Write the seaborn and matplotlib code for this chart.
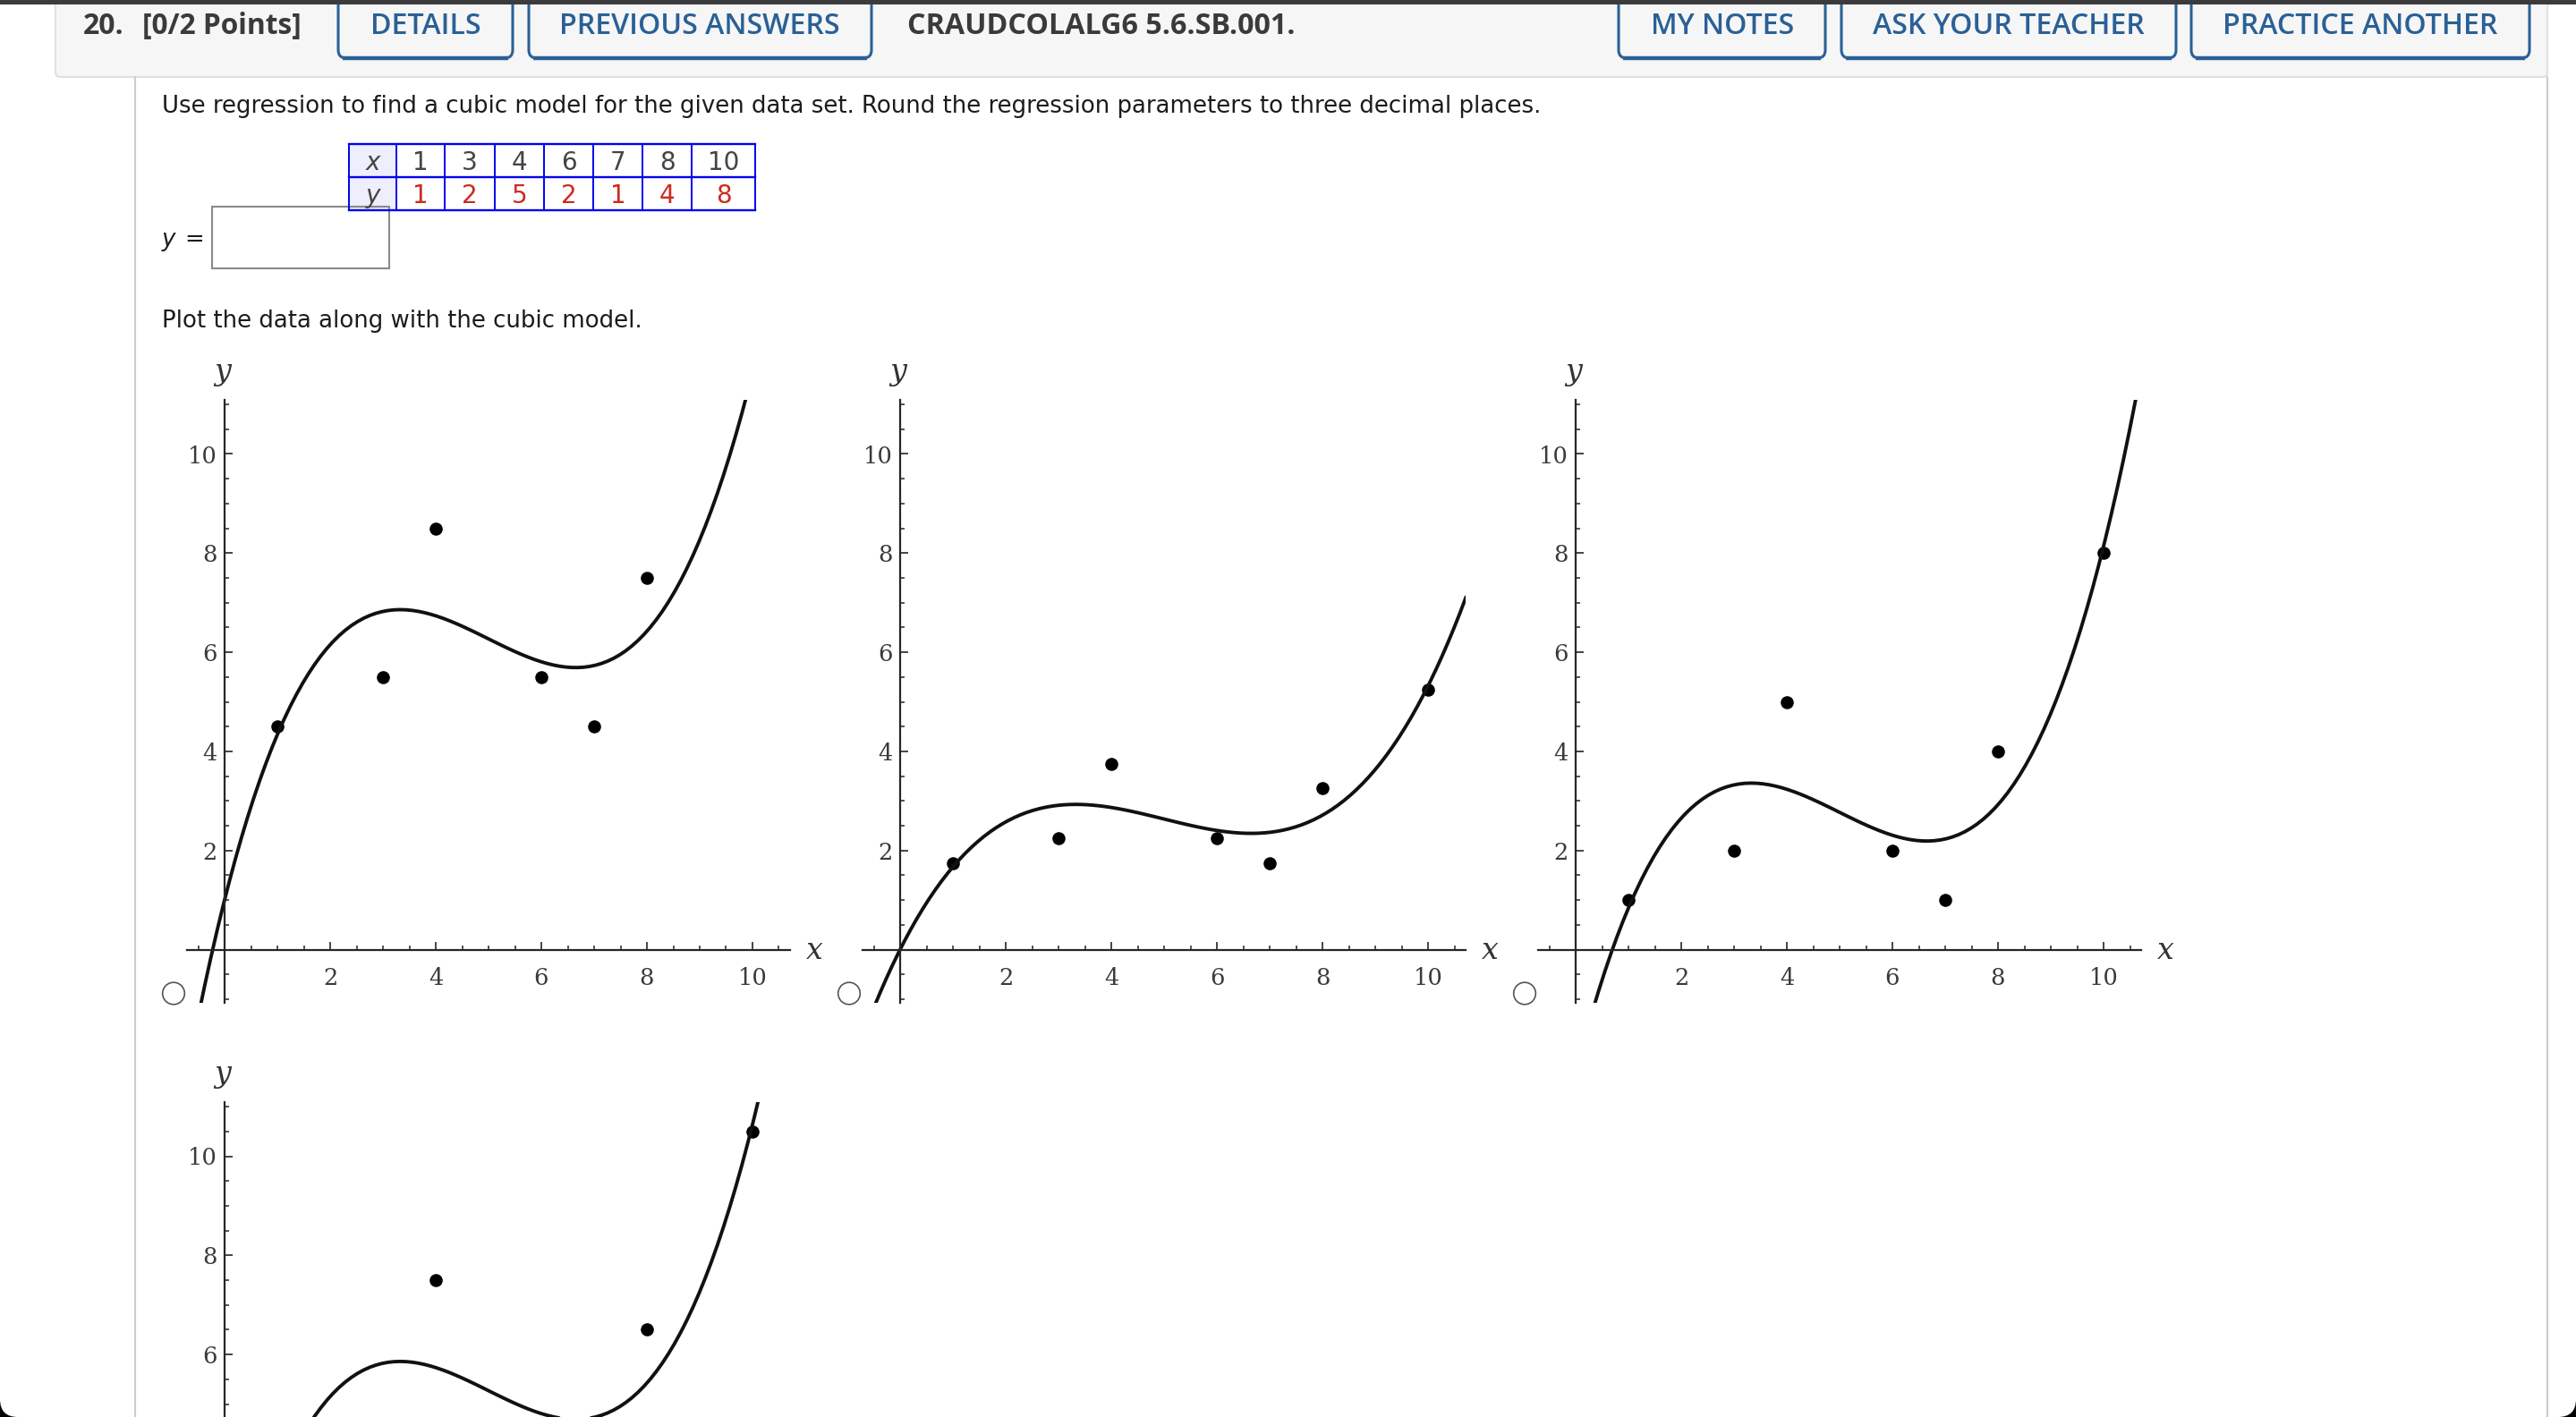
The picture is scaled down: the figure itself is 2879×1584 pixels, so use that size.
import numpy as np
import pandas as pd
import matplotlib.pyplot as plt
import seaborn as sns
from matplotlib.patches import FancyBboxPatch, Rectangle, Circle
from matplotlib.ticker import MultipleLocator

# data
x_vals = [1, 3, 4, 6, 7, 8, 10]
y_table = [1, 2, 5, 2, 1, 4, 8]
y_a = [4.5, 5.5, 8.5, 5.5, 4.5, 7.5, 11.5]
y_b = [1.75, 2.25, 3.75, 2.25, 1.75, 3.25, 5.25]
y_c = [1, 2, 5, 2, 1, 4, 8]
y_d = [3.5, 4.5, 7.5, 4.5, 3.5, 6.5, 10.5]
tick_vals = [2, 4, 6, 8, 10]

W, H = 2879, 1584
INK = '#262626'
BLUE = '#2a6096'
HEAD_BG = '#f6f6f6'

sns.set_theme(style='white')
fig = plt.figure(figsize=(W / 100, H / 100), dpi=100, facecolor='black')

# page behind the plots, in pixel coordinates
bg = fig.add_axes([0, 0, 1, 1], zorder=0)
bg.set_xlim(0, W)
bg.set_ylim(H, 0)
bg.axis('off')


def rbox(x0, y0, x1, y1, r, **kw):
    p = FancyBboxPatch((x0 + r, y0 + r), x1 - x0 - 2 * r, y1 - y0 - 2 * r,
                       boxstyle=f'round,pad={r},rounding_size={r}', **kw)
    bg.add_patch(p)
    return p


def txt(x, y, s, size=18.75, color='#1c1c1c', family='DejaVu Sans', **kw):
    kw.setdefault('va', 'baseline')
    return bg.text(x, y, s, fontsize=size, color=color, family=family, **kw)


rbox(0, -60, W, H, 20, fc='white', ec='none')
bg.plot([151, 151], [86, H], color='#cccccc', lw=1.5)
bg.plot([2847, 2847], [86, H], color='#cccccc', lw=1.5)
rbox(62, -20, 2847, 86, 5, fc=HEAD_BG, ec='#e0e0e0', lw=1.5)

# header buttons
buttons = [(378, 573, 'DETAILS', 476), (591, 974, 'PREVIOUS ANSWERS', 782),
           (1809, 2040, 'MY NOTES', 1925), (2058, 2432, 'ASK YOUR TEACHER', 2245),
           (2449, 2827, 'PRACTICE ANOTHER', 2638)]
for x0, x1, label, xc in buttons:
    rbox(x0, -20, x1, 65, 9, fc=HEAD_BG, ec=BLUE, lw=2.2)
    bg.plot([x0 + 5, x1 - 5], [64.5, 64.5], color=BLUE, lw=3.2, solid_capstyle='butt')
    txt(xc, 38, label, size=23.1, color=BLUE, family='Open Sans', weight='semibold', ha='center')
txt(93, 38, '20.', size=23, color='#3a3a3a', family='Open Sans', weight='bold')
txt(159, 38, '[0/2 Points]', size=22.8, color='#3a3a3a', family='Open Sans', weight='bold')
txt(1014, 38, 'CRAUDCOLALG6 5.6.SB.001.', size=23.2, color='#3a3a3a', family='Open Sans', weight='bold')
bg.add_patch(Rectangle((0, 0), W, 4.5, fc='#3b3b3e', ec='none'))

# question text
txt(181, 126, 'Use regression to find a cubic model for the given data set. '
    'Round the regression parameters to three decimal places.')
txt(181, 366, 'Plot the data along with the cubic model.')
txt(181, 275, 'y', style='italic')
txt(206, 275, '=')

# data table
edges = [390, 443, 497, 553, 608, 663, 718, 773, 844]
rows = [161, 198, 235]
bg.add_patch(Rectangle((edges[0], rows[0]), edges[1] - edges[0], rows[2] - rows[0], fc='#eeeefc', ec='none'))
for xe in edges:
    bg.plot([xe, xe], [rows[0], rows[2]], color='#0000ee', lw=1.4, solid_capstyle='projecting')
for ye in rows:
    bg.plot([edges[0], edges[-1]], [ye, ye], color='#0000ee', lw=1.7, solid_capstyle='projecting')
txt((edges[0] + edges[1]) / 2, 190, 'x', size=20, color='#444444', style='italic', ha='center')
txt((edges[0] + edges[1]) / 2, 227, 'y', size=20, color='#444444', style='italic', ha='center')
for i, (xv, yv) in enumerate(zip(x_vals, y_table)):
    xc = (edges[i + 1] + edges[i + 2]) / 2
    txt(xc, 190, str(xv), size=20, color='#444444', ha='center')
    txt(xc, 227, str(yv), size=20, color='#cc2a1e', ha='center')

# answer box, it sits over the table corner
bg.add_patch(Rectangle((237, 231), 198, 69, fc='none', ec='#8a8a8a', lw=1.5))


def add_panel(y_vals, yaxis_px, zero_px, bottom_px=None):
    # pixel scale: 59 px per x unit, 55.4 px per y unit
    xlim = (-0.72, 10.72)
    y_top = 11.1
    if bottom_px is None:
        y_bot = -1.08
        bottom_px = zero_px + 1.08 * 55.4
    else:
        y_bot = (zero_px - bottom_px) / 55.4
    left = yaxis_px + xlim[0] * 59
    top = zero_px - y_top * 55.4
    ax = fig.add_axes([left / W, 1 - bottom_px / H, (xlim[1] - xlim[0]) * 59 / W, (bottom_px - top) / H], zorder=2)
    ax.patch.set_visible(False)
    ax.set_xlim(*xlim)
    ax.set_ylim(y_bot, y_top)

    data = pd.DataFrame({'x': x_vals, 'y': y_vals})
    sns.regplot(data=data, x='x', y='y', order=3, ci=None, truncate=False, ax=ax, color='black',
                scatter_kws={'s': 110, 'linewidths': 0, 'alpha': 1},
                line_kws={'lw': 2.8, 'color': '#111111'})
    ax.set_xlim(*xlim)
    ax.set_ylim(y_bot, y_top)
    ax.set_xlabel('')
    ax.set_ylabel('')

    for side in ['top', 'right']:
        ax.spines[side].set_visible(False)
    ax.spines['left'].set_position(('data', 0))
    ax.spines['bottom'].set_position(('data', 0))
    ax.spines['left'].set(color=INK, lw=1.6)
    ax.spines['bottom'].set(color=INK, lw=1.6, visible=y_bot < 0)

    ax.xaxis.set_minor_locator(MultipleLocator(0.5))
    ax.yaxis.set_minor_locator(MultipleLocator(0.5))
    ax.set_yticks([t for t in tick_vals if t > y_bot])
    ax.set_xticks(tick_vals)
    ax.tick_params(axis='both', which='major', direction='in', length=6.5, width=1.2, color=INK,
                   labelcolor='#3a3a3a', labelsize=18.5, bottom=True, left=True)
    ax.tick_params(axis='both', which='minor', direction='in', length=3.6, width=1.1, color=INK,
                   bottom=True, left=True)
    ax.tick_params(axis='x', which='major', pad=14)
    ax.tick_params(axis='y', which='major', pad=6)
    if y_bot > 0:
        ax.tick_params(axis='x', which='both', bottom=False, labelbottom=False)
    for lab in ax.get_xticklabels() + ax.get_yticklabels():
        lab.set_family('DejaVu Serif')
    ax.text(-0.04, 11.65, 'y', family='DejaVu Serif', style='italic', fontsize=24, color='#333333',
            ha='center', va='center', clip_on=False)
    if y_bot < 0:
        ax.text(11.17, -0.03, 'x', family='DejaVu Serif', style='italic', fontsize=24, color='#333333',
                ha='center', va='center', clip_on=False)
        # radio button left of each choice
        bg.add_patch(Circle((yaxis_px - 57, 1110.5), 12.3, fc='white', ec='#555555', lw=1.2))
    return ax


add_panel(y_a, 251, 1061.5)
add_panel(y_b, 1006, 1061.5)
add_panel(y_c, 1761, 1061.5)
add_panel(y_d, 251, 1846.5, bottom_px=H)

fig.savefig('out.png', dpi=100, facecolor='black')
